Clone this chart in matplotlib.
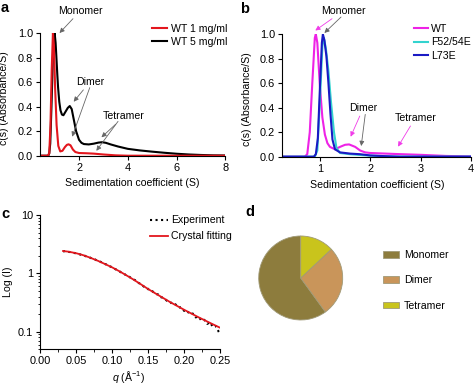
import numpy as np
import matplotlib
matplotlib.use("Agg")
import matplotlib.pyplot as plt
from matplotlib.ticker import MultipleLocator

plt.rcParams["font.family"] = ["Liberation Sans", "DejaVu Sans"]
plt.rcParams["mathtext.fontset"] = "custom"
plt.rcParams["mathtext.rm"] = "Liberation Sans"
plt.rcParams["mathtext.it"] = "Liberation Sans:italic"
plt.rcParams["font.size"] = 7.6
plt.rcParams["axes.linewidth"] = 0.8
plt.rcParams["xtick.major.size"] = 3
plt.rcParams["ytick.major.size"] = 3
plt.rcParams["xtick.minor.size"] = 1.8
plt.rcParams["ytick.minor.size"] = 1.8
plt.rcParams["xtick.major.width"] = 0.8
plt.rcParams["ytick.major.width"] = 0.8

FS = 7.6
TFS = 7.9

# ---------------------------
# DATA
# ---------------------------

# panel a : c(s) distributions, WT at two concentrations
a_x_5mg = [0.40, 0.74, 0.78, 0.82, 0.87, 0.93, 0.97, 1.00, 1.04, 1.07, 1.11, 1.14,
           1.19, 1.24, 1.30, 1.36, 1.45, 1.54, 1.62, 1.70, 1.78, 1.88, 2.00, 2.10,
           2.20, 2.40, 2.60, 2.80, 2.95, 3.10, 3.30, 3.60, 4.00, 4.50, 5.00, 5.50,
           6.00, 6.50, 7.00, 7.50, 8.00]
a_y_5mg = [0.0, 0.0, 0.02, 0.10, 0.40, 0.80, 0.97, 1.00, 0.92, 0.81, 0.66, 0.56,
           0.44, 0.37, 0.335, 0.33, 0.36, 0.39, 0.405, 0.38, 0.30, 0.20, 0.13, 0.105,
           0.095, 0.092, 0.098, 0.107, 0.11, 0.105, 0.092, 0.075, 0.056, 0.043, 0.033, 0.024,
           0.016, 0.010, 0.006, 0.003, 0.002]

a_x_1mg = [0.40, 0.72, 0.78, 0.83, 0.88, 0.93, 0.97, 1.02, 1.08, 1.15, 1.23, 1.32,
           1.42, 1.50, 1.57, 1.65, 1.75, 1.85, 2.00, 2.30, 2.60, 3.00, 3.50, 4.00, 8.00]
a_y_1mg = [0.0, 0.0, 0.02, 0.25, 0.70, 1.00, 0.90, 0.55, 0.25, 0.08, 0.035, 0.04,
           0.07, 0.088, 0.093, 0.085, 0.05, 0.03, 0.022, 0.02, 0.017, 0.01, 0.003, 0.0, 0.0]

# panel b : WT and mutants
b_x_wt = [0.25, 0.70, 0.75, 0.80, 0.85, 0.90, 0.92, 0.95, 1.00, 1.05, 1.10, 1.15,
          1.20, 1.30, 1.40, 1.50, 1.58, 1.70, 1.80, 1.90, 2.00, 2.50, 3.00, 3.50, 4.00]
b_y_wt = [0.0, 0.0, 0.02, 0.20, 0.60, 0.97, 1.00, 0.93, 0.58, 0.32, 0.18, 0.11,
          0.08, 0.06, 0.08, 0.097, 0.10, 0.08, 0.05, 0.035, 0.03, 0.022, 0.015, 0.006, 0.002]

b_x_f52 = [0.25, 0.90, 0.95, 1.00, 1.05, 1.08, 1.12, 1.17, 1.22, 1.28, 1.33, 1.40,
           1.60, 2.00, 2.50, 4.00]
b_y_f52 = [0.0, 0.0, 0.05, 0.45, 0.90, 0.97, 0.88, 0.70, 0.45, 0.20, 0.07, 0.03,
           0.02, 0.008, 0.0, 0.0]

b_x_l73 = [0.25, 0.88, 0.92, 0.96, 1.00, 1.04, 1.06, 1.09, 1.13, 1.17, 1.21, 1.25,
           1.30, 1.40, 1.60, 1.80, 2.00, 2.30, 2.60, 4.00]
b_y_l73 = [0.0, 0.0, 0.02, 0.15, 0.55, 0.93, 1.00, 0.95, 0.82, 0.60, 0.35, 0.14,
           0.06, 0.035, 0.025, 0.02, 0.01, 0.004, 0.0, 0.0]

# panel c : SAXS
q_exp = [0.032, 0.036, 0.040, 0.044, 0.048, 0.052, 0.056, 0.060, 0.064, 0.068,
         0.072, 0.076, 0.080, 0.084, 0.088, 0.092, 0.096, 0.100, 0.104, 0.108,
         0.112, 0.116, 0.120, 0.124, 0.128, 0.132, 0.136, 0.140, 0.144, 0.148,
         0.152, 0.156, 0.160, 0.164, 0.168, 0.172, 0.176, 0.180, 0.184, 0.188,
         0.192, 0.196, 0.200, 0.204, 0.208, 0.212, 0.216, 0.220, 0.224, 0.228,
         0.232, 0.236, 0.240, 0.244, 0.248, 0.250]
i_exp = [2.38, 2.42, 2.33, 2.31, 2.23, 2.20, 2.10, 2.06, 1.96, 1.90,
         1.80, 1.74, 1.64, 1.58, 1.48, 1.42, 1.33, 1.28, 1.19, 1.13,
         1.05, 1.00, 0.915, 0.875, 0.80, 0.765, 0.69, 0.66, 0.595, 0.57,
         0.51, 0.495, 0.445, 0.435, 0.39, 0.38, 0.34, 0.33, 0.295, 0.295,
         0.26, 0.262, 0.228, 0.232, 0.198, 0.205, 0.176, 0.183, 0.155, 0.16,
         0.136, 0.145, 0.12, 0.125, 0.10, 0.092]

q_fit = [0.032, 0.04, 0.05, 0.06, 0.07, 0.08, 0.09, 0.10, 0.11, 0.12, 0.13, 0.14,
         0.15, 0.16, 0.17, 0.18, 0.19, 0.20, 0.21, 0.22, 0.23, 0.24, 0.25]
i_fit = [2.42, 2.35, 2.22, 2.05, 1.85, 1.65, 1.45, 1.27, 1.09, 0.925, 0.78, 0.65,
         0.54, 0.455, 0.385, 0.325, 0.278, 0.238, 0.205, 0.177, 0.154, 0.134, 0.117]

# panel d : oligomer fractions (%)
species = ["Monomer", "Dimer", "Tetramer"]
fractions = [60, 27, 13]
pie_colors = ["#8d7c3d", "#c9955a", "#c9c41c"]

# ---------------------------
# FIGURE
# ---------------------------

fig = plt.figure(figsize=(4.74, 3.84), dpi=100)

arrow_k = dict(arrowstyle="-|>", color="0.4", lw=0.6, mutation_scale=7,
               shrinkA=0, shrinkB=0)
arrow_m = dict(arrowstyle="-|>", color="#f03ce8", lw=0.6, mutation_scale=7,
               shrinkA=0, shrinkB=0)


def style_axes(ax):
    for s in ["top", "right"]:
        ax.spines[s].set_visible(False)
    ax.tick_params(direction="out", labelsize=TFS, pad=2)
    ax.tick_params(which="minor", direction="out")


def place_legend(ax, handles, labels, x, y, **kw):
    return ax.legend(handles, labels, loc="upper left", bbox_to_anchor=(x, y),
                     bbox_transform=fig.transFigure, frameon=False, fontsize=FS,
                     borderpad=0, borderaxespad=0, **kw)


# ----- a -----
ax_a = fig.add_axes([0.0844, 0.5945, 0.391, 0.3195])
ax_a.plot(a_x_5mg, a_y_5mg, color="black", lw=1.5, label="WT 5 mg/ml")
ax_a.plot(a_x_1mg, a_y_1mg, color="#e3161d", lw=1.5, label="WT 1 mg/ml")
ax_a.set_xlim(0.4, 8)
ax_a.set_ylim(0, 1.0)
ax_a.set_xticks([2, 4, 6, 8])
ax_a.set_yticks([0, 0.2, 0.4, 0.6, 0.8, 1.0])
ax_a.set_yticklabels(["0.0", "0.2", "0.4", "0.6", "0.8", "1.0"])
style_axes(ax_a)
ax_a.set_xlabel("Sedimentation coefficient (S)", fontsize=FS)
ax_a.set_ylabel("c(s) (Absorbance/S)", fontsize=FS)
ax_a.xaxis.set_label_coords(0.497, -0.18)
ax_a.yaxis.set_label_coords(-0.165, 0.47)
h, l = ax_a.get_legend_handles_labels()
place_legend(ax_a, h[::-1], l[::-1], 0.320, 0.937,
             handlelength=1.45, handletextpad=0.35, labelspacing=0.25)

ax_a.annotate("Monomer", xy=(1.2, 1.0), xytext=(2.05, 1.18), ha="center", va="center",
              fontsize=FS, arrowprops=arrow_k, annotation_clip=False)
ax_a.annotate("Dimer", xy=(1.78, 0.44), xytext=(2.44, 0.60), ha="center", va="center",
              fontsize=FS, arrowprops=arrow_k)
ax_a.annotate("", xy=(1.72, 0.155), xytext=(2.44, 0.555), arrowprops=arrow_k)
ax_a.annotate("Tetramer", xy=(2.92, 0.15), xytext=(3.85, 0.32), ha="center", va="center",
              fontsize=FS, arrowprops=arrow_k)
ax_a.annotate("", xy=(2.71, 0.04), xytext=(3.6, 0.28), arrowprops=arrow_k)

# ----- b -----
ax_b = fig.add_axes([0.595, 0.592, 0.399, 0.319])
ax_b.plot(b_x_wt, b_y_wt, color="#ee22e6", lw=1.5, label="WT")
ax_b.plot(b_x_f52, b_y_f52, color="#33d3cf", lw=1.5, label="F52/54E")
ax_b.plot(b_x_l73, b_y_l73, color="#1a1ac4", lw=1.5, label="L73E")
ax_b.set_xlim(0.25, 4)
ax_b.set_ylim(0, 1.0)
ax_b.set_xticks([1, 2, 3, 4])
ax_b.set_yticks([0, 0.2, 0.4, 0.6, 0.8, 1.0])
ax_b.set_yticklabels(["0.0", "0.2", "0.4", "0.6", "0.8", "1.0"])
style_axes(ax_b)
ax_b.set_xlabel("Sedimentation coefficient (S)", fontsize=FS)
ax_b.set_ylabel("c(s) (Absorbance/S)", fontsize=FS)
ax_b.xaxis.set_label_coords(0.505, -0.19)
ax_b.yaxis.set_label_coords(-0.16, 0.47)
h, l = ax_b.get_legend_handles_labels()
place_legend(ax_b, h, l, 0.873, 0.937,
             handlelength=1.3, handletextpad=0.3, labelspacing=0.3)

ax_b.annotate("Monomer", xy=(0.91, 1.03), xytext=(1.46, 1.19), ha="center", va="center",
              fontsize=FS, arrowprops=arrow_m, annotation_clip=False)
ax_b.annotate("", xy=(1.09, 1.01), xytext=(1.42, 1.14), arrowprops=arrow_k,
              annotation_clip=False)
ax_b.annotate("Dimer", xy=(1.61, 0.163), xytext=(1.86, 0.395), ha="center", va="center",
              fontsize=FS, arrowprops=arrow_m)
ax_b.annotate("", xy=(1.82, 0.087), xytext=(1.9, 0.345), arrowprops=arrow_k)
ax_b.annotate("Tetramer", xy=(2.55, 0.082), xytext=(2.89, 0.314), ha="center", va="center",
              fontsize=FS, arrowprops=arrow_m)

# ----- c -----
ax_c = fig.add_axes([0.0844, 0.0904, 0.380, 0.3496])
ax_c.plot(q_exp, i_exp, color="black", lw=1.5, ls=":", label="Experiment")
ax_c.plot(q_fit, i_fit, color="#e3161d", lw=1.3, label="Crystal fitting")
ax_c.set_yscale("log")
ax_c.set_ylim(0.05, 10)
ax_c.set_xlim(0.0, 0.25)
ax_c.set_xticks([0.0, 0.05, 0.10, 0.15, 0.20, 0.25])
ax_c.set_xticklabels(["0.00", "0.05", "0.10", "0.15", "0.20", "0.25"])
ax_c.xaxis.set_minor_locator(MultipleLocator(0.025))
ax_c.set_yticks([0.1, 1, 10])
ax_c.set_yticklabels(["0.1", "1", "10"])
style_axes(ax_c)
ax_c.set_xlabel(r"$q$ (Å$^{-1}$)", fontsize=FS)
ax_c.set_ylabel("Log (I)", fontsize=FS)
ax_c.xaxis.set_label_coords(0.49, -0.15)
ax_c.yaxis.set_label_coords(-0.15, 0.5)
h, l = ax_c.get_legend_handles_labels()
place_legend(ax_c, h, l, 0.316, 0.439,
             handlelength=1.7, handletextpad=0.35, labelspacing=0.55)

# ----- d -----
ax_d = fig.add_axes([0.5458, 0.1667, 0.1772, 0.21875])
wedges, _ = ax_d.pie(fractions, colors=pie_colors, startangle=90,
                     wedgeprops=dict(edgecolor="#a09a78", linewidth=0.6))
ax_d.set_xlim(-1, 1)
ax_d.set_ylim(-1, 1)
fig.legend(wedges, species, loc="upper left", bbox_to_anchor=(0.808, 0.349),
           frameon=False, fontsize=FS, handlelength=1.5, handleheight=0.6,
           handletextpad=0.5, labelspacing=1.45, borderpad=0, borderaxespad=0)

# panel letters
for letter, x, y in [("a", 0.002, 0.998), ("b", 0.506, 0.995),
                     ("c", 0.002, 0.462), ("d", 0.517, 0.466)]:
    fig.text(x, y, letter, fontsize=10.5, fontweight="bold", va="top", ha="left")

fig.savefig("out.png", dpi=100)
